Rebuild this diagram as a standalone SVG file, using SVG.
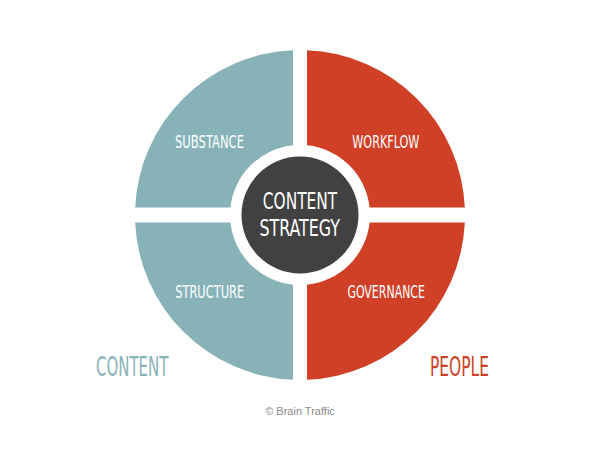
<svg xmlns="http://www.w3.org/2000/svg" width="600" height="463" viewBox="0 0 600 463">
<style>
.teal{fill:#87b3b8}
.red{fill:#cf4027}
.lbl{font-family:"Liberation Sans Narrow","DejaVu Sans Condensed","Liberation Sans",sans-serif;fill:#ffffff;text-anchor:middle}
.q{font-size:18px}
.c{font-size:23px}
.big{font-family:"Liberation Sans Narrow","DejaVu Sans Condensed","Liberation Sans",sans-serif;font-size:26px;text-anchor:middle}
</style>
<rect width="600" height="463" fill="#ffffff"/>
<g id="substance">
<path class="teal" d="M 293 50.15 A 165 165 0 0 0 135.17 207.5 L 230.4 207.5 A 70 70 0 0 1 293 145.35 Z"/>
<text class="lbl q" x="209.5" y="148" textLength="69" lengthAdjust="spacingAndGlyphs">SUBSTANCE</text>
</g>
<g id="workflow">
<path class="red" d="M 307 50.15 A 165 165 0 0 1 464.83 207.5 L 369.6 207.5 A 70 70 0 0 0 307 145.35 Z"/>
<text class="lbl q" x="385.8" y="148" textLength="67" lengthAdjust="spacingAndGlyphs">WORKFLOW</text>
</g>
<g id="structure">
<path class="teal" d="M 293 379.85 A 165 165 0 0 1 135.17 222.5 L 230.4 222.5 A 70 70 0 0 0 293 284.65 Z"/>
<text class="lbl q" x="209.7" y="298.3" textLength="69" lengthAdjust="spacingAndGlyphs">STRUCTURE</text>
</g>
<g id="governance">
<path class="red" d="M 464.83 222.5 A 165 165 0 0 1 307 379.85 L 307 284.65 A 70 70 0 0 0 369.6 222.5 Z"/>
<text class="lbl q" x="386.2" y="298.3" textLength="77.5" lengthAdjust="spacingAndGlyphs">GOVERNANCE</text>
</g>
<g id="content-strategy">
<circle cx="300" cy="215" r="58.5" fill="#414141"/>
<text class="lbl c" x="300" y="209" textLength="74.5" lengthAdjust="spacingAndGlyphs">CONTENT</text>
<text class="lbl c" x="299.7" y="236" textLength="80.5" lengthAdjust="spacingAndGlyphs">STRATEGY</text>
</g>
<g id="content-label">
<text class="big" x="132.2" y="376" fill="#87b3b8" textLength="72.3" lengthAdjust="spacingAndGlyphs">CONTENT</text>
</g>
<g id="people-label">
<text class="big" x="459.5" y="376" fill="#cf4027" textLength="59" lengthAdjust="spacingAndGlyphs">PEOPLE</text>
</g>
<g id="connectors"></g>
<text x="300" y="415" font-family="'Liberation Sans',sans-serif" font-size="11" fill="#8a8a8a" text-anchor="middle">© Brain Traffic</text>
</svg>
